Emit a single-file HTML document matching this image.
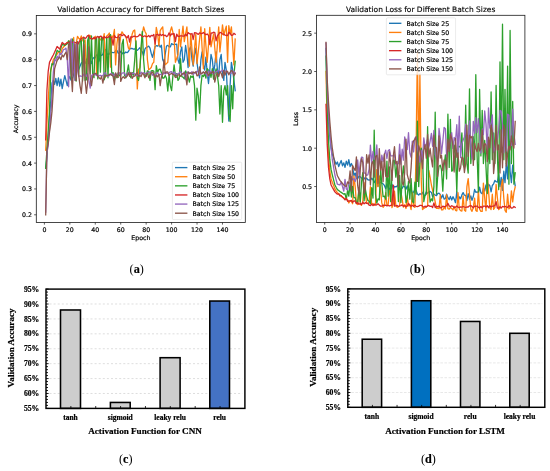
<!DOCTYPE html>
<html><head><meta charset="utf-8"><title>Figure</title>
<style>
html,body{margin:0;padding:0;background:#fff;}
body{width:550px;height:471px;overflow:hidden;}
svg{display:block;}
.tk{font-family:"DejaVu Sans","Liberation Sans",sans-serif;font-size:6.25px;fill:#000;stroke:#000;stroke-width:0.2px;}
.tt{font-family:"DejaVu Sans","Liberation Sans",sans-serif;font-size:7.5px;fill:#000;stroke:#000;stroke-width:0.12px;}
.bx{font-family:"Liberation Serif",serif;font-weight:bold;font-size:7.5px;fill:#000;stroke:#000;stroke-width:0.2px;}
.by{font-family:"Liberation Serif",serif;font-weight:bold;font-size:7.7px;fill:#000;stroke:#000;stroke-width:0.2px;}
.bt{font-family:"Liberation Serif",serif;font-weight:bold;font-size:9.15px;fill:#000;stroke:#000;stroke-width:0.2px;}
.cap{font-family:"Liberation Serif",serif;font-size:12.2px;fill:#000;}
.cap tspan{stroke:#000;stroke-width:0.15px;}
</style></head><body>
<svg width="550" height="471" viewBox="0 0 550 471">
<rect width="550" height="471" fill="#fff"/>
<clipPath id="ca"><rect x="36.3" y="15.4" width="209.0" height="207.0"/></clipPath>
<g clip-path="url(#ca)">
<polyline points="45.7,168.3 46.9,157.9 48.2,137.2 49.5,116.6 50.8,101.1 52.0,83.0 53.3,80.4 54.6,84.3 55.8,78.3 57.1,85.6 58.4,77.8 59.7,86.1 60.9,79.1 62.2,88.7 63.5,81.7 64.8,75.7 66.0,80.4 67.3,85.6 68.6,79.1 69.8,76.5 71.1,80.4 72.4,78.5 73.7,74.1 74.9,70.4 76.2,70.4 77.5,68.8 78.7,69.5 80.0,66.2 81.3,63.0 82.6,62.1 83.8,61.8 85.1,63.5 86.4,59.4 87.6,58.7 88.9,60.7 90.2,59.7 91.5,63.6 92.7,58.8 94.0,57.5 95.3,57.8 96.6,54.8 97.8,55.8 99.1,61.0 100.4,55.0 101.6,55.4 102.9,54.2 104.2,50.3 105.5,49.5 106.7,53.8 108.0,54.1 109.3,54.2 110.5,52.1 111.8,52.3 113.1,52.6 114.4,52.5 115.6,50.6 116.9,50.4 118.2,53.1 119.4,53.5 120.7,51.2 122.0,54.0 123.3,52.4 124.5,53.3 125.8,52.0 127.1,52.7 128.4,51.5 129.6,49.1 130.9,48.3 132.2,48.5 133.4,49.1 134.7,48.8 136.0,49.7 137.3,50.4 138.5,49.1 139.8,47.8 141.1,50.4 142.3,51.9 143.6,55.8 144.9,49.1 146.2,47.3 147.4,47.1 148.7,46.1 150.0,48.2 151.2,53.2 152.5,57.4 153.8,51.9 155.1,46.5 156.3,45.7 157.6,46.2 158.9,44.7 160.2,47.1 161.4,45.2 162.7,59.7 164.0,62.5 165.2,54.5 166.5,46.0 167.8,45.4 169.1,46.8 170.3,46.9 171.6,43.6 172.9,44.6 174.1,44.4 175.4,44.3 176.7,44.2 178.0,59.7 179.2,63.6 180.5,51.9 181.8,46.8 183.0,62.3 184.3,59.7 185.6,45.5 186.9,54.5 188.1,67.5 189.4,49.4 190.7,46.8 192.0,59.7 193.2,66.2 194.5,54.5 195.8,48.1 197.0,62.3 198.3,72.6 199.6,77.8 200.9,59.7 202.1,51.9 203.4,64.9 204.7,70.0 205.9,57.1 207.2,72.6 208.5,83.5 209.8,70.0 211.0,54.5 212.3,59.7 213.6,72.6 214.8,64.9 216.1,51.9 217.4,70.0 218.7,75.2 219.9,59.7 221.2,54.5 222.5,72.6 223.8,80.4 225.0,62.3 226.3,70.0 227.6,95.9 228.8,121.0 230.1,85.6 231.4,62.3 232.7,70.0 233.9,80.4 235.2,90.7" fill="none" stroke="#1f77b4" stroke-width="1.3" stroke-linejoin="round" stroke-linecap="square"/>
<polyline points="45.7,150.2 46.9,124.3 48.2,101.1 49.5,77.8 50.8,70.0 52.0,64.9 53.3,59.7 54.6,57.8 55.8,55.8 57.1,54.0 58.4,52.2 59.7,52.7 60.9,53.2 62.2,48.6 63.5,47.0 64.8,45.5 66.0,43.9 67.3,42.4 68.6,42.4 69.8,40.8 71.1,41.0 72.4,74.4 73.7,37.4 74.9,75.4 76.2,43.3 77.5,36.4 78.7,38.2 80.0,39.5 81.3,35.9 82.6,39.9 83.8,42.1 85.1,40.0 86.4,75.7 87.6,57.1 88.9,35.0 90.2,35.6 91.5,38.3 92.7,38.8 94.0,38.3 95.3,36.3 96.6,74.6 97.8,57.1 99.1,36.6 100.4,39.9 101.6,39.4 102.9,40.1 104.2,33.7 105.5,77.1 106.7,36.0 108.0,35.0 109.3,33.0 110.5,67.2 111.8,36.0 113.1,37.3 114.4,29.5 115.6,64.9 116.9,44.2 118.2,33.9 119.4,45.5 120.7,36.4 122.0,31.8 123.3,33.9 124.5,35.1 125.8,36.4 127.1,41.6 128.4,48.1 129.6,49.4 130.9,41.6 132.2,33.9 133.4,30.7 134.7,30.0 136.0,46.8 137.3,88.9 138.5,70.0 139.8,67.5 141.1,51.9 142.3,33.9 143.6,26.9 144.9,31.3 146.2,33.9 147.4,59.7 148.7,69.8 150.0,68.7 151.2,67.5 152.5,63.6 153.8,62.3 155.1,44.2 156.3,27.4 157.6,33.9 158.9,45.7 160.2,30.7 161.4,28.7 162.7,26.9 164.0,41.6 165.2,64.9 166.5,63.6 167.8,62.3 169.1,46.8 170.3,31.3 171.6,26.9 172.9,32.3 174.1,37.7 175.4,62.3 176.7,58.4 178.0,54.5 179.2,29.5 180.5,46.8 181.8,36.4 183.0,26.1 184.3,41.6 185.6,34.2 186.9,26.9 188.1,46.5 189.4,66.2 190.7,33.9 192.0,49.4 193.2,64.9 194.5,49.4 195.8,33.9 197.0,63.6 198.3,51.3 199.6,39.1 200.9,26.9 202.1,47.8 203.4,68.7 204.7,28.7 205.9,45.5 207.2,62.3 208.5,44.8 209.8,27.4 211.0,46.8 212.3,40.3 213.6,33.9 214.8,48.1 216.1,62.3 217.4,44.6 218.7,26.9 219.9,51.9 221.2,38.4 222.5,24.8 223.8,35.1 225.0,30.6 226.3,26.1 227.6,62.3 228.8,25.6 230.1,33.9 231.4,26.9 232.7,45.9 233.9,64.9 235.2,39.0" fill="none" stroke="#ff7f0e" stroke-width="1.3" stroke-linejoin="round" stroke-linecap="square"/>
<polyline points="45.7,168.3 46.9,150.2 48.2,132.1 49.5,111.4 50.8,70.0 52.0,63.6 53.3,64.9 54.6,59.7 55.8,55.0 57.1,50.4 58.4,51.2 59.7,51.9 60.9,48.1 62.2,44.2 63.5,44.8 64.8,45.5 66.0,44.6 67.3,43.7 68.6,40.8 69.8,43.4 71.1,78.7 72.4,39.0 73.7,43.5 74.9,79.5 76.2,81.1 77.5,41.7 78.7,74.8 80.0,41.7 81.3,39.9 82.6,81.0 83.8,38.1 85.1,80.3 86.4,79.8 87.6,40.5 88.9,36.5 90.2,73.8 91.5,35.9 92.7,73.8 94.0,77.7 95.3,39.5 96.6,37.5 97.8,78.9 99.1,36.6 100.4,72.2 101.6,37.2 102.9,38.8 104.2,79.9 105.5,75.2 106.7,37.7 108.0,77.8 109.3,36.4 110.5,34.6 111.8,75.2 113.1,72.6 114.4,80.4 115.6,73.9 116.9,77.8 118.2,72.6 119.4,75.2 120.7,76.5 122.0,44.2 123.3,39.5 124.5,75.2 125.8,77.8 127.1,72.6 128.4,64.9 129.6,75.2 130.9,77.8 132.2,72.6 133.4,75.2 134.7,59.7 136.0,40.8 137.3,77.8 138.5,80.4 139.8,72.6 141.1,46.8 142.3,31.5 143.6,59.7 144.9,75.5 146.2,76.4 147.4,70.8 148.7,71.5 150.0,80.4 151.2,71.0 152.5,70.7 153.8,71.2 155.1,89.7 156.3,65.6 157.6,72.6 158.9,69.4 160.2,69.1 161.4,72.6 162.7,78.0 164.0,78.0 165.2,75.4 166.5,78.3 167.8,91.0 169.1,75.2 170.3,85.6 171.6,90.7 172.9,75.9 174.1,64.9 175.4,76.1 176.7,73.6 178.0,80.4 179.2,78.6 180.5,58.7 181.8,76.7 183.0,77.1 184.3,78.9 185.6,70.8 186.9,74.0 188.1,76.5 189.4,82.2 190.7,75.8 192.0,77.4 193.2,75.7 194.5,85.6 195.8,120.2 197.0,88.1 198.3,95.9 199.6,113.2 200.9,85.6 202.1,75.2 203.4,76.5 204.7,73.5 205.9,78.1 207.2,68.7 208.5,70.4 209.8,72.2 211.0,77.3 212.3,68.6 213.6,79.2 214.8,74.8 216.1,68.9 217.4,76.0 218.7,85.6 219.9,114.0 221.2,85.6 222.5,122.3 223.8,90.7 225.0,85.6 226.3,94.9 227.6,85.6 228.8,114.0 230.1,121.5 231.4,85.6 232.7,108.8 233.9,75.2 235.2,61.3" fill="none" stroke="#2ca02c" stroke-width="1.3" stroke-linejoin="round" stroke-linecap="square"/>
<polyline points="45.7,139.8 46.9,90.7 48.2,71.3 49.5,62.3 50.8,59.7 52.0,57.4 53.3,55.0 54.6,52.2 55.8,49.4 57.1,46.5 58.4,47.8 59.7,49.1 60.9,45.7 62.2,42.4 63.5,43.4 64.8,44.4 66.0,43.5 67.3,42.6 68.6,42.5 69.8,42.4 71.1,42.3 72.4,42.1 73.7,42.3 74.9,42.5 76.2,42.6 77.5,45.0 78.7,42.6 80.0,40.3 81.3,38.5 82.6,38.0 83.8,37.1 85.1,38.6 86.4,37.4 87.6,35.6 88.9,35.5 90.2,38.7 91.5,38.3 92.7,38.9 94.0,37.3 95.3,39.0 96.6,37.2 97.8,36.4 99.1,37.9 100.4,36.2 101.6,36.5 102.9,38.8 104.2,36.6 105.5,37.8 106.7,37.1 108.0,37.6 109.3,35.9 110.5,36.9 111.8,38.1 113.1,45.2 114.4,35.4 115.6,37.4 116.9,37.7 118.2,37.0 119.4,34.7 120.7,34.5 122.0,35.7 123.3,34.7 124.5,34.9 125.8,36.8 127.1,37.9 128.4,35.5 129.6,42.1 130.9,36.6 132.2,37.2 133.4,36.4 134.7,36.1 136.0,36.8 137.3,36.7 138.5,36.0 139.8,34.3 141.1,35.4 142.3,36.6 143.6,36.5 144.9,35.8 146.2,36.7 147.4,36.7 148.7,35.4 150.0,37.1 151.2,35.4 152.5,35.9 153.8,34.4 155.1,44.2 156.3,34.4 157.6,34.3 158.9,35.6 160.2,34.3 161.4,35.6 162.7,34.6 164.0,35.6 165.2,35.1 166.5,36.6 167.8,35.8 169.1,32.8 170.3,35.8 171.6,33.8 172.9,34.0 174.1,33.7 175.4,41.6 176.7,34.2 178.0,36.3 179.2,36.3 180.5,35.8 181.8,35.9 183.0,36.1 184.3,36.0 185.6,34.2 186.9,35.7 188.1,32.6 189.4,33.7 190.7,34.2 192.0,33.5 193.2,39.5 194.5,32.6 195.8,32.9 197.0,33.4 198.3,34.4 199.6,32.9 200.9,33.3 202.1,33.6 203.4,32.5 204.7,33.7 205.9,34.8 207.2,34.0 208.5,35.4 209.8,44.7 211.0,33.2 212.3,33.0 213.6,32.2 214.8,32.6 216.1,40.8 217.4,35.8 218.7,34.1 219.9,32.3 221.2,32.8 222.5,34.1 223.8,34.2 225.0,35.1 226.3,35.3 227.6,35.7 228.8,32.3 230.1,33.3 231.4,35.4 232.7,35.1 233.9,33.3 235.2,34.4" fill="none" stroke="#d62728" stroke-width="1.3" stroke-linejoin="round" stroke-linecap="square"/>
<polyline points="45.7,212.2 46.9,152.8 48.2,145.0 49.5,129.5 50.8,114.0 52.0,95.9 53.3,72.6 54.6,59.7 55.8,60.8 57.1,56.1 58.4,58.9 59.7,53.2 60.9,54.6 62.2,52.5 63.5,49.6 64.8,49.2 66.0,48.1 67.3,59.7 68.6,86.8 69.8,44.2 71.1,39.0 72.4,75.2 73.7,41.6 74.9,80.4 76.2,44.2 77.5,70.0 78.7,76.5 80.0,75.8 81.3,76.2 82.6,76.5 83.8,74.1 85.1,75.2 86.4,76.2 87.6,73.6 88.9,80.4 90.2,88.1 91.5,75.6 92.7,74.4 94.0,74.5 95.3,74.4 96.6,75.6 97.8,75.5 99.1,75.6 100.4,75.3 101.6,75.9 102.9,75.8 104.2,72.9 105.5,72.9 106.7,75.7 108.0,76.3 109.3,75.6 110.5,73.8 111.8,73.5 113.1,76.2 114.4,74.1 115.6,76.2 116.9,74.3 118.2,73.8 119.4,72.6 120.7,75.2 122.0,73.2 123.3,72.9 124.5,72.7 125.8,76.0 127.1,74.3 128.4,72.4 129.6,74.5 130.9,73.0 132.2,73.9 133.4,73.1 134.7,74.1 136.0,75.7 137.3,75.5 138.5,75.4 139.8,74.8 141.1,72.2 142.3,73.4 143.6,72.7 144.9,73.6 146.2,73.3 147.4,72.7 148.7,72.2 150.0,72.2 151.2,72.5 152.5,75.2 153.8,74.2 155.1,75.3 156.3,73.4 157.6,72.5 158.9,75.2 160.2,74.7 161.4,74.0 162.7,74.4 164.0,72.4 165.2,74.0 166.5,72.9 167.8,73.4 169.1,73.1 170.3,71.8 171.6,71.7 172.9,74.7 174.1,72.0 175.4,73.8 176.7,74.7 178.0,73.6 179.2,73.1 180.5,71.5 181.8,73.6 183.0,74.9 184.3,71.8 185.6,79.6 186.9,73.1 188.1,71.7 189.4,72.9 190.7,73.2 192.0,71.8 193.2,74.6 194.5,72.6 195.8,73.2 197.0,71.1 198.3,71.7 199.6,74.4 200.9,73.9 202.1,72.9 203.4,72.0 204.7,73.3 205.9,73.2 207.2,76.5 208.5,71.0 209.8,72.9 211.0,71.1 212.3,73.2 213.6,74.0 214.8,72.4 216.1,71.9 217.4,71.0 218.7,70.7 219.9,71.4 221.2,71.4 222.5,70.0 223.8,71.6 225.0,71.3 226.3,70.6 227.6,72.7 228.8,73.7 230.1,73.1 231.4,73.2 232.7,72.7 233.9,71.0 235.2,73.7" fill="none" stroke="#9467bd" stroke-width="1.3" stroke-linejoin="round" stroke-linecap="square"/>
<polyline points="45.7,214.8 46.9,150.2 48.2,143.7 49.5,132.1 50.8,123.0 52.0,111.4 53.3,90.7 54.6,68.7 55.8,64.6 57.1,60.5 58.4,58.7 59.7,56.9 60.9,59.7 62.2,55.0 63.5,56.9 64.8,54.0 66.0,52.2 67.3,59.7 68.6,44.2 69.8,41.6 71.1,72.6 72.4,91.5 73.7,59.7 74.9,44.2 76.2,80.4 77.5,41.6 78.7,75.2 80.0,85.6 81.3,93.3 82.6,77.8 83.8,44.2 85.1,80.4 86.4,93.3 87.6,83.0 88.9,46.8 90.2,77.8 91.5,85.6 92.7,76.5 94.0,73.9 95.3,73.3 96.6,73.9 97.8,75.9 99.1,77.8 100.4,79.1 101.6,76.5 102.9,83.2 104.2,75.9 105.5,76.1 106.7,75.6 108.0,75.6 109.3,74.3 110.5,74.5 111.8,75.1 113.1,76.3 114.4,84.5 115.6,72.8 116.9,76.8 118.2,77.4 119.4,37.2 120.7,81.4 122.0,77.9 123.3,76.7 124.5,78.2 125.8,77.2 127.1,76.2 128.4,73.0 129.6,76.4 130.9,72.4 132.2,78.3 133.4,76.3 134.7,76.1 136.0,73.7 137.3,72.6 138.5,76.4 139.8,75.6 141.1,76.6 142.3,73.3 143.6,74.3 144.9,77.8 146.2,74.4 147.4,73.2 148.7,77.9 150.0,75.3 151.2,73.2 152.5,71.9 153.8,74.4 155.1,77.8 156.3,75.2 157.6,76.8 158.9,74.0 160.2,85.6 161.4,76.9 162.7,74.5 164.0,59.7 165.2,73.2 166.5,71.9 167.8,71.9 169.1,75.4 170.3,74.0 171.6,73.5 172.9,74.4 174.1,74.7 175.4,77.5 176.7,77.1 178.0,74.8 179.2,74.8 180.5,76.3 181.8,74.1 183.0,73.7 184.3,72.9 185.6,75.4 186.9,84.8 188.1,72.2 189.4,73.6 190.7,72.8 192.0,74.0 193.2,72.0 194.5,72.7 195.8,71.7 197.0,75.8 198.3,75.2 199.6,66.9 200.9,73.9 202.1,73.2 203.4,71.9 204.7,73.6 205.9,71.1 207.2,72.4 208.5,75.7 209.8,73.0 211.0,73.3 212.3,72.0 213.6,71.7 214.8,82.2 216.1,75.8 217.4,72.7 218.7,76.6 219.9,71.7 221.2,73.4 222.5,77.8 223.8,70.4 225.0,75.1 226.3,71.2 227.6,71.4 228.8,74.9 230.1,72.3 231.4,70.3 232.7,71.8 233.9,75.7 235.2,73.1" fill="none" stroke="#8c564b" stroke-width="1.3" stroke-linejoin="round" stroke-linecap="square"/>
</g>
<line x1="44.40" y1="222.40" x2="44.40" y2="224.60" stroke="#1a1a1a" stroke-width="0.7"/>
<text x="44.40" y="231.90" text-anchor="middle" class="tk">0</text>
<line x1="69.84" y1="222.40" x2="69.84" y2="224.60" stroke="#1a1a1a" stroke-width="0.7"/>
<text x="69.84" y="231.90" text-anchor="middle" class="tk">20</text>
<line x1="95.28" y1="222.40" x2="95.28" y2="224.60" stroke="#1a1a1a" stroke-width="0.7"/>
<text x="95.28" y="231.90" text-anchor="middle" class="tk">40</text>
<line x1="120.72" y1="222.40" x2="120.72" y2="224.60" stroke="#1a1a1a" stroke-width="0.7"/>
<text x="120.72" y="231.90" text-anchor="middle" class="tk">60</text>
<line x1="146.16" y1="222.40" x2="146.16" y2="224.60" stroke="#1a1a1a" stroke-width="0.7"/>
<text x="146.16" y="231.90" text-anchor="middle" class="tk">80</text>
<line x1="171.60" y1="222.40" x2="171.60" y2="224.60" stroke="#1a1a1a" stroke-width="0.7"/>
<text x="171.60" y="231.90" text-anchor="middle" class="tk">100</text>
<line x1="197.04" y1="222.40" x2="197.04" y2="224.60" stroke="#1a1a1a" stroke-width="0.7"/>
<text x="197.04" y="231.90" text-anchor="middle" class="tk">120</text>
<line x1="222.48" y1="222.40" x2="222.48" y2="224.60" stroke="#1a1a1a" stroke-width="0.7"/>
<text x="222.48" y="231.90" text-anchor="middle" class="tk">140</text>
<line x1="34.10" y1="214.80" x2="36.30" y2="214.80" stroke="#1a1a1a" stroke-width="0.7"/>
<text x="32.00" y="217.30" text-anchor="end" class="tk">0.2</text>
<line x1="34.10" y1="188.95" x2="36.30" y2="188.95" stroke="#1a1a1a" stroke-width="0.7"/>
<text x="32.00" y="191.45" text-anchor="end" class="tk">0.3</text>
<line x1="34.10" y1="163.10" x2="36.30" y2="163.10" stroke="#1a1a1a" stroke-width="0.7"/>
<text x="32.00" y="165.60" text-anchor="end" class="tk">0.4</text>
<line x1="34.10" y1="137.25" x2="36.30" y2="137.25" stroke="#1a1a1a" stroke-width="0.7"/>
<text x="32.00" y="139.75" text-anchor="end" class="tk">0.5</text>
<line x1="34.10" y1="111.40" x2="36.30" y2="111.40" stroke="#1a1a1a" stroke-width="0.7"/>
<text x="32.00" y="113.90" text-anchor="end" class="tk">0.6</text>
<line x1="34.10" y1="85.55" x2="36.30" y2="85.55" stroke="#1a1a1a" stroke-width="0.7"/>
<text x="32.00" y="88.05" text-anchor="end" class="tk">0.7</text>
<line x1="34.10" y1="59.70" x2="36.30" y2="59.70" stroke="#1a1a1a" stroke-width="0.7"/>
<text x="32.00" y="62.20" text-anchor="end" class="tk">0.8</text>
<line x1="34.10" y1="33.85" x2="36.30" y2="33.85" stroke="#1a1a1a" stroke-width="0.7"/>
<text x="32.00" y="36.35" text-anchor="end" class="tk">0.9</text>
<rect x="36.30" y="15.40" width="209.00" height="207.00" fill="none" stroke="#1a1a1a" stroke-width="0.8"/>
<text x="140.80" y="11.80" text-anchor="middle" class="tt">Validation Accuracy for Different Batch Sizes</text>
<text x="140.85" y="240.10" text-anchor="middle" class="tk">Epoch</text>
<text transform="translate(17.70,118.90) rotate(-90)" text-anchor="middle" class="tk">Accuracy</text>
<rect x="172.40" y="162.20" width="69.30" height="57.40" rx="1.2" fill="#fff" fill-opacity="0.8" stroke="#cccccc" stroke-opacity="0.8" stroke-width="0.5"/>
<line x1="175.00" y1="167.60" x2="187.40" y2="167.60" stroke="#1f77b4" stroke-width="1.35"/>
<text x="192.40" y="169.90" class="tk">Batch Size 25</text>
<line x1="175.00" y1="176.72" x2="187.40" y2="176.72" stroke="#ff7f0e" stroke-width="1.35"/>
<text x="192.40" y="179.02" class="tk">Batch Size 50</text>
<line x1="175.00" y1="185.84" x2="187.40" y2="185.84" stroke="#2ca02c" stroke-width="1.35"/>
<text x="192.40" y="188.14" class="tk">Batch Size 75</text>
<line x1="175.00" y1="194.96" x2="187.40" y2="194.96" stroke="#d62728" stroke-width="1.35"/>
<text x="192.40" y="197.26" class="tk">Batch Size 100</text>
<line x1="175.00" y1="204.08" x2="187.40" y2="204.08" stroke="#9467bd" stroke-width="1.35"/>
<text x="192.40" y="206.38" class="tk">Batch Size 125</text>
<line x1="175.00" y1="213.20" x2="187.40" y2="213.20" stroke="#8c564b" stroke-width="1.35"/>
<text x="192.40" y="215.50" class="tk">Batch Size 150</text>
<clipPath id="cb"><rect x="316.4" y="15.3" width="208.5" height="207.1"/></clipPath>
<g clip-path="url(#cb)">
<polyline points="326.0,48.5 327.2,94.5 328.5,121.4 329.8,136.7 331.1,148.2 332.3,154.3 333.6,157.8 334.9,161.2 336.1,164.3 337.4,162.0 338.7,166.6 339.9,163.5 341.2,160.5 342.5,165.8 343.8,162.8 345.0,167.4 346.3,161.2 347.6,165.1 348.8,159.7 350.1,166.6 351.4,163.5 352.6,166.5 353.9,175.6 355.2,173.0 356.4,178.5 357.7,178.6 359.0,176.0 360.3,176.9 361.5,178.1 362.8,179.2 364.1,177.8 365.3,179.5 366.6,178.1 367.9,179.9 369.1,180.0 370.4,180.0 371.7,178.2 373.0,179.7 374.2,182.7 375.5,180.1 376.8,180.9 378.0,186.3 379.3,182.4 380.6,182.3 381.8,183.1 383.1,183.8 384.4,185.4 385.7,188.7 386.9,183.8 388.2,187.9 389.5,189.2 390.7,186.0 392.0,184.2 393.3,189.0 394.5,186.4 395.8,186.9 397.1,186.1 398.4,184.8 399.6,188.6 400.9,189.2 402.2,188.3 403.4,186.1 404.7,186.7 406.0,189.2 407.2,185.9 408.5,189.8 409.8,190.7 411.1,189.0 412.3,193.5 413.6,191.9 414.9,189.9 416.1,190.4 417.4,194.0 418.7,195.0 419.9,193.6 421.2,194.6 422.5,192.2 423.8,195.8 425.0,195.0 426.3,191.8 427.6,193.4 428.8,191.8 430.1,191.4 431.4,192.4 432.6,196.7 433.9,194.0 435.2,195.1 436.5,195.7 437.7,193.6 439.0,193.2 440.3,194.4 441.5,198.1 442.8,194.7 444.1,199.1 445.4,198.5 446.6,194.1 447.9,197.7 449.2,199.6 450.4,196.4 451.7,200.0 453.0,196.7 454.2,199.1 455.5,202.7 456.8,192.0 458.0,202.1 459.3,196.8 460.6,198.7 461.9,194.9 463.1,192.6 464.4,195.2 465.7,195.3 466.9,200.6 468.2,193.6 469.5,199.3 470.8,195.9 472.0,200.4 473.3,196.5 474.6,189.5 475.8,192.3 477.1,191.8 478.4,193.1 479.6,187.1 480.9,192.8 482.2,193.8 483.4,188.1 484.7,191.1 486.0,184.9 487.3,191.4 488.5,184.1 489.8,185.7 491.1,191.8 492.3,185.5 493.6,183.8 494.9,180.4 496.1,181.7 497.4,182.1 498.7,174.3 500.0,186.6 501.2,177.3 502.5,190.4 503.8,171.2 505.0,182.7 506.3,163.5 507.6,178.9 508.9,134.4 510.1,171.2 511.4,182.7 512.7,165.1 513.9,177.3 515.2,185.8" fill="none" stroke="#1f77b4" stroke-width="1.3" stroke-linejoin="round" stroke-linecap="square"/>
<polyline points="326.0,71.5 327.2,125.2 328.5,155.9 329.8,171.2 331.1,178.9 332.3,182.2 333.6,185.5 334.9,188.9 336.1,190.8 337.4,192.7 338.7,193.8 339.9,194.8 341.2,195.9 342.5,197.0 343.8,198.1 345.0,198.6 346.3,199.1 347.6,199.6 348.8,203.0 350.1,200.8 351.4,201.3 352.6,203.7 353.9,175.8 355.2,186.6 356.4,203.5 357.7,204.5 359.0,190.4 360.3,204.2 361.5,205.3 362.8,201.6 364.1,182.7 365.3,194.2 366.6,203.0 367.9,203.8 369.1,202.1 370.4,186.6 371.7,204.3 373.0,203.5 374.2,205.4 375.5,203.8 376.8,169.7 378.0,186.6 379.3,175.8 380.6,190.4 381.8,202.9 383.1,207.4 384.4,205.6 385.7,192.7 386.9,205.2 388.2,204.2 389.5,190.4 390.7,195.8 392.0,207.6 393.3,204.3 394.5,191.2 395.8,205.0 397.1,207.3 398.4,206.7 399.6,206.0 400.9,192.1 402.2,199.6 403.4,207.1 404.7,204.8 406.0,208.5 407.2,195.8 408.5,205.9 409.8,204.7 411.1,209.5 412.3,192.7 413.6,206.4 414.9,207.4 416.1,148.2 417.4,51.6 418.7,163.5 419.9,73.8 421.2,178.9 422.5,209.5 423.8,208.4 425.0,207.7 426.3,206.7 427.6,206.2 428.8,170.4 430.1,177.3 431.4,185.0 432.6,190.4 433.9,195.8 435.2,201.9 436.5,208.4 437.7,208.2 439.0,208.7 440.3,194.7 441.5,209.9 442.8,209.9 444.1,207.2 445.4,209.0 446.6,194.7 447.9,208.7 449.2,209.1 450.4,207.5 451.7,208.5 453.0,209.9 454.2,206.3 455.5,210.3 456.8,210.8 458.0,192.7 459.3,209.0 460.6,210.7 461.9,211.1 463.1,195.8 464.4,210.2 465.7,211.2 466.9,186.6 468.2,178.6 469.5,194.2 470.8,209.1 472.0,211.4 473.3,207.6 474.6,198.1 475.8,210.5 477.1,211.4 478.4,190.4 479.6,209.2 480.9,211.3 482.2,211.4 483.4,183.1 484.7,198.1 486.0,210.7 487.3,175.5 488.5,190.4 489.8,207.9 491.1,209.5 492.3,194.2 493.6,209.4 494.9,207.4 496.1,184.4 497.4,198.1 498.7,209.6 500.0,208.0 501.2,186.6 502.5,179.3 503.8,198.1 505.0,210.3 506.3,212.3 507.6,194.2 508.9,208.9 510.1,207.6 511.4,190.8 512.7,201.9 513.9,192.7 515.2,186.9" fill="none" stroke="#ff7f0e" stroke-width="1.3" stroke-linejoin="round" stroke-linecap="square"/>
<polyline points="326.0,56.2 327.2,109.8 328.5,140.5 329.8,159.7 331.1,169.7 332.3,174.8 333.6,179.9 334.9,185.0 336.1,187.3 337.4,189.6 338.7,190.5 339.9,191.5 341.2,192.4 342.5,193.3 343.8,194.2 345.0,193.6 346.3,199.7 347.6,190.2 348.8,196.1 350.1,183.4 351.4,197.0 352.6,186.5 353.9,197.7 355.2,197.7 356.4,203.1 357.7,201.9 359.0,187.3 360.3,201.9 361.5,182.1 362.8,172.6 364.1,200.8 365.3,188.8 366.6,196.1 367.9,200.6 369.1,201.0 370.4,203.9 371.7,187.7 373.0,198.1 374.2,130.2 375.5,194.2 376.8,203.2 378.0,198.8 379.3,199.9 380.6,169.5 381.8,183.5 383.1,196.7 384.4,196.2 385.7,199.2 386.9,161.1 388.2,196.2 389.5,166.9 390.7,201.5 392.0,175.5 393.3,160.4 394.5,160.1 395.8,177.1 397.1,164.3 398.4,201.6 399.6,175.5 400.9,202.4 402.2,177.8 403.4,165.8 404.7,180.1 406.0,202.6 407.2,197.6 408.5,181.3 409.8,199.1 411.1,178.7 412.3,201.2 413.6,202.7 414.9,182.2 416.1,194.2 417.4,121.1 418.7,186.6 419.9,162.4 421.2,148.1 422.5,153.2 423.8,201.7 425.0,195.8 426.3,194.2 427.6,126.7 428.8,186.6 430.1,202.1 431.4,198.9 432.6,200.9 433.9,186.6 435.2,112.2 436.5,194.2 437.7,176.2 439.0,166.4 440.3,165.1 441.5,169.7 442.8,191.2 444.1,165.8 445.4,154.8 446.6,178.9 447.9,114.1 449.2,167.4 450.4,119.3 451.7,171.2 453.0,170.2 454.2,145.1 455.5,154.2 456.8,191.9 458.0,146.4 459.3,146.3 460.6,147.8 461.9,132.9 463.1,164.8 464.4,167.4 465.7,105.2 466.9,163.5 468.2,173.1 469.5,88.8 470.8,163.5 472.0,145.0 473.3,136.7 474.6,159.7 475.8,74.7 477.1,155.9 478.4,191.9 479.6,89.4 480.9,155.9 482.2,110.3 483.4,163.5 484.7,140.5 486.0,167.4 487.3,193.5 488.5,144.4 489.8,163.5 491.1,91.9 492.3,159.7 493.6,132.9 494.9,163.5 496.1,85.5 497.4,155.9 498.7,189.6 500.0,61.8 501.2,152.0 502.5,24.2 503.8,159.7 505.0,89.4 506.3,163.5 507.6,66.1 508.9,184.2 510.1,30.5 511.4,163.5 512.7,101.4 513.9,184.2 515.2,172.7" fill="none" stroke="#2ca02c" stroke-width="1.3" stroke-linejoin="round" stroke-linecap="square"/>
<polyline points="326.0,104.5 327.2,144.4 328.5,167.4 329.8,178.9 331.1,185.0 332.3,187.3 333.6,189.6 334.9,191.9 336.1,193.1 337.4,194.2 338.7,193.9 339.9,195.9 341.2,195.7 342.5,197.3 343.8,198.3 345.0,199.9 346.3,198.3 347.6,201.3 348.8,201.0 350.1,200.9 351.4,200.4 352.6,202.3 353.9,200.9 355.2,201.0 356.4,203.5 357.7,202.6 359.0,204.3 360.3,203.5 361.5,204.5 362.8,202.3 364.1,203.8 365.3,202.7 366.6,203.3 367.9,203.2 369.1,205.2 370.4,205.5 371.7,204.3 373.0,205.5 374.2,204.1 375.5,205.0 376.8,204.8 378.0,203.8 379.3,205.0 380.6,206.2 381.8,206.2 383.1,205.2 384.4,205.4 385.7,205.2 386.9,205.9 388.2,205.3 389.5,206.0 390.7,205.4 392.0,205.1 393.3,185.1 394.5,206.2 395.8,205.8 397.1,205.4 398.4,206.5 399.6,205.8 400.9,205.6 402.2,204.9 403.4,206.3 404.7,205.6 406.0,206.8 407.2,206.1 408.5,203.4 409.8,205.0 411.1,206.3 412.3,205.3 413.6,206.4 414.9,205.1 416.1,206.4 417.4,206.7 418.7,206.1 419.9,205.4 421.2,205.3 422.5,206.1 423.8,207.4 425.0,206.1 426.3,207.0 427.6,205.8 428.8,205.4 430.1,206.4 431.4,206.2 432.6,207.6 433.9,202.9 435.2,207.5 436.5,206.2 437.7,206.9 439.0,205.9 440.3,207.8 441.5,207.6 442.8,206.2 444.1,206.6 445.4,206.5 446.6,205.8 447.9,203.4 449.2,205.9 450.4,206.8 451.7,205.7 453.0,206.4 454.2,207.7 455.5,207.2 456.8,205.9 458.0,207.2 459.3,207.6 460.6,206.9 461.9,207.1 463.1,206.5 464.4,207.0 465.7,207.4 466.9,207.0 468.2,207.0 469.5,205.8 470.8,205.6 472.0,206.5 473.3,207.9 474.6,206.2 475.8,206.4 477.1,206.0 478.4,207.2 479.6,208.0 480.9,206.5 482.2,207.8 483.4,206.2 484.7,206.1 486.0,207.1 487.3,205.7 488.5,207.7 489.8,205.7 491.1,206.9 492.3,206.2 493.6,206.2 494.9,205.6 496.1,201.6 497.4,208.1 498.7,208.1 500.0,206.7 501.2,208.1 502.5,206.4 503.8,206.8 505.0,206.4 506.3,207.0 507.6,207.5 508.9,205.7 510.1,206.3 511.4,208.2 512.7,207.9 513.9,206.5 515.2,207.4" fill="none" stroke="#d62728" stroke-width="1.3" stroke-linejoin="round" stroke-linecap="square"/>
<polyline points="326.0,43.1 327.2,86.8 328.5,113.7 329.8,132.9 331.1,148.2 332.3,159.7 333.6,167.4 334.9,175.0 336.1,179.6 337.4,184.2 338.7,184.6 339.9,185.0 341.2,181.9 342.5,186.6 343.8,191.2 345.0,179.4 346.3,188.9 347.6,189.9 348.8,183.0 350.1,183.2 351.4,176.7 352.6,179.9 353.9,178.6 355.2,181.6 356.4,177.1 357.7,160.0 359.0,175.1 360.3,162.4 361.5,157.2 362.8,157.5 364.1,173.0 365.3,173.1 366.6,175.5 367.9,174.7 369.1,169.2 370.4,145.1 371.7,162.9 373.0,151.5 374.2,159.3 375.5,157.9 376.8,145.0 378.0,168.7 379.3,158.0 380.6,167.0 381.8,155.1 383.1,161.7 384.4,154.4 385.7,150.2 386.9,158.7 388.2,150.7 389.5,149.6 390.7,155.8 392.0,155.8 393.3,155.7 394.5,154.8 395.8,164.2 397.1,164.5 398.4,163.4 399.6,144.1 400.9,164.1 402.2,149.2 403.4,160.1 404.7,137.0 406.0,143.6 407.2,149.6 408.5,132.6 409.8,153.0 411.1,157.2 412.3,141.2 413.6,151.9 414.9,138.0 416.1,137.1 417.4,148.4 418.7,154.1 419.9,162.2 421.2,150.4 422.5,159.5 423.8,137.9 425.0,146.9 426.3,144.7 427.6,138.8 428.8,147.7 430.1,141.3 431.4,133.3 432.6,146.3 433.9,130.5 435.2,154.2 436.5,158.2 437.7,161.6 439.0,128.5 440.3,138.6 441.5,153.7 442.8,141.5 444.1,127.4 445.4,128.8 446.6,156.7 447.9,150.0 449.2,150.2 450.4,139.6 451.7,132.7 453.0,148.4 454.2,137.4 455.5,140.8 456.8,124.7 458.0,152.8 459.3,116.1 460.6,157.7 461.9,143.6 463.1,140.2 464.4,136.9 465.7,124.1 466.9,151.8 468.2,142.5 469.5,121.0 470.8,144.6 472.0,159.1 473.3,121.4 474.6,133.3 475.8,117.7 477.1,132.5 478.4,118.6 479.6,133.0 480.9,153.0 482.2,129.0 483.4,134.6 484.7,111.0 486.0,123.9 487.3,153.2 488.5,107.8 489.8,128.0 491.1,123.3 492.3,114.8 493.6,152.4 494.9,148.3 496.1,140.9 497.4,139.0 498.7,129.8 500.0,110.4 501.2,111.0 502.5,124.7 503.8,152.8 505.0,136.3 506.3,151.0 507.6,114.2 508.9,115.1 510.1,138.6 511.4,145.5 512.7,109.1 513.9,133.3 515.2,144.4" fill="none" stroke="#9467bd" stroke-width="1.3" stroke-linejoin="round" stroke-linecap="square"/>
<polyline points="326.0,42.4 327.2,79.2 328.5,102.2 329.8,121.4 331.1,136.7 332.3,148.2 333.6,156.6 334.9,165.1 336.1,170.4 337.4,175.8 338.7,178.1 339.9,180.4 341.2,181.9 342.5,183.5 343.8,185.0 345.0,185.8 346.3,186.6 347.6,182.0 348.8,183.3 350.1,170.9 351.4,191.2 352.6,165.4 353.9,168.4 355.2,170.8 356.4,157.0 357.7,185.7 359.0,194.5 360.3,168.6 361.5,158.6 362.8,162.6 364.1,193.4 365.3,189.4 366.6,154.7 367.9,163.2 369.1,154.8 370.4,185.0 371.7,163.6 373.0,161.4 374.2,177.1 375.5,156.7 376.8,155.3 378.0,183.4 379.3,148.6 380.6,170.1 381.8,161.1 383.1,181.7 384.4,154.0 385.7,176.2 386.9,177.1 388.2,176.5 389.5,151.9 390.7,164.2 392.0,180.4 393.3,156.0 394.5,146.7 395.8,163.5 397.1,161.4 398.4,186.7 399.6,154.9 400.9,161.9 402.2,182.5 403.4,185.2 404.7,172.6 406.0,139.1 407.2,174.3 408.5,179.4 409.8,183.1 411.1,167.8 412.3,145.9 413.6,140.8 414.9,139.4 416.1,136.7 417.4,181.4 418.7,145.6 419.9,149.9 421.2,157.5 422.5,168.5 423.8,150.1 425.0,144.7 426.3,158.3 427.6,134.4 428.8,156.8 430.1,148.5 431.4,159.3 432.6,166.9 433.9,135.2 435.2,146.7 436.5,147.8 437.7,176.2 439.0,135.9 440.3,158.1 441.5,155.2 442.8,170.6 444.1,159.9 445.4,161.3 446.6,169.3 447.9,139.2 449.2,151.5 450.4,134.2 451.7,138.5 453.0,146.0 454.2,171.9 455.5,138.5 456.8,157.3 458.0,153.0 459.3,171.2 460.6,167.7 461.9,157.2 463.1,158.3 464.4,172.5 465.7,163.5 466.9,125.2 468.2,156.4 469.5,135.2 470.8,137.9 472.0,136.4 473.3,165.4 474.6,143.1 475.8,148.8 477.1,151.6 478.4,143.4 479.6,150.9 480.9,148.4 482.2,130.0 483.4,152.3 484.7,143.4 486.0,145.0 487.3,161.7 488.5,137.2 489.8,147.7 491.1,125.2 492.3,131.6 493.6,173.5 494.9,159.6 496.1,125.3 497.4,150.0 498.7,145.0 500.0,173.0 501.2,129.7 502.5,167.8 503.8,125.2 505.0,129.6 506.3,166.2 507.6,153.9 508.9,146.1 510.1,149.9 511.4,136.0 512.7,144.4 513.9,148.2 515.2,121.4" fill="none" stroke="#8c564b" stroke-width="1.3" stroke-linejoin="round" stroke-linecap="square"/>
</g>
<line x1="324.70" y1="222.40" x2="324.70" y2="224.60" stroke="#1a1a1a" stroke-width="0.7"/>
<text x="324.70" y="231.90" text-anchor="middle" class="tk">0</text>
<line x1="350.10" y1="222.40" x2="350.10" y2="224.60" stroke="#1a1a1a" stroke-width="0.7"/>
<text x="350.10" y="231.90" text-anchor="middle" class="tk">20</text>
<line x1="375.50" y1="222.40" x2="375.50" y2="224.60" stroke="#1a1a1a" stroke-width="0.7"/>
<text x="375.50" y="231.90" text-anchor="middle" class="tk">40</text>
<line x1="400.90" y1="222.40" x2="400.90" y2="224.60" stroke="#1a1a1a" stroke-width="0.7"/>
<text x="400.90" y="231.90" text-anchor="middle" class="tk">60</text>
<line x1="426.30" y1="222.40" x2="426.30" y2="224.60" stroke="#1a1a1a" stroke-width="0.7"/>
<text x="426.30" y="231.90" text-anchor="middle" class="tk">80</text>
<line x1="451.70" y1="222.40" x2="451.70" y2="224.60" stroke="#1a1a1a" stroke-width="0.7"/>
<text x="451.70" y="231.90" text-anchor="middle" class="tk">100</text>
<line x1="477.10" y1="222.40" x2="477.10" y2="224.60" stroke="#1a1a1a" stroke-width="0.7"/>
<text x="477.10" y="231.90" text-anchor="middle" class="tk">120</text>
<line x1="502.50" y1="222.40" x2="502.50" y2="224.60" stroke="#1a1a1a" stroke-width="0.7"/>
<text x="502.50" y="231.90" text-anchor="middle" class="tk">140</text>
<line x1="314.20" y1="186.55" x2="316.40" y2="186.55" stroke="#1a1a1a" stroke-width="0.7"/>
<text x="312.10" y="189.05" text-anchor="end" class="tk">0.5</text>
<line x1="314.20" y1="148.20" x2="316.40" y2="148.20" stroke="#1a1a1a" stroke-width="0.7"/>
<text x="312.10" y="150.70" text-anchor="end" class="tk">1.0</text>
<line x1="314.20" y1="109.85" x2="316.40" y2="109.85" stroke="#1a1a1a" stroke-width="0.7"/>
<text x="312.10" y="112.35" text-anchor="end" class="tk">1.5</text>
<line x1="314.20" y1="71.50" x2="316.40" y2="71.50" stroke="#1a1a1a" stroke-width="0.7"/>
<text x="312.10" y="74.00" text-anchor="end" class="tk">2.0</text>
<line x1="314.20" y1="33.15" x2="316.40" y2="33.15" stroke="#1a1a1a" stroke-width="0.7"/>
<text x="312.10" y="35.65" text-anchor="end" class="tk">2.5</text>
<rect x="316.40" y="15.30" width="208.50" height="207.10" fill="none" stroke="#1a1a1a" stroke-width="0.8"/>
<text x="420.65" y="11.70" text-anchor="middle" class="tt">Validation Loss for Different Batch Sizes</text>
<text x="420.70" y="240.10" text-anchor="middle" class="tk">Epoch</text>
<text transform="translate(298.00,118.85) rotate(-90)" text-anchor="middle" class="tk">Loss</text>
<rect x="386.40" y="17.80" width="69.20" height="57.00" rx="1.2" fill="#fff" fill-opacity="0.8" stroke="#cccccc" stroke-opacity="0.8" stroke-width="0.5"/>
<line x1="389.00" y1="23.30" x2="401.40" y2="23.30" stroke="#1f77b4" stroke-width="1.35"/>
<text x="406.40" y="25.60" class="tk">Batch Size 25</text>
<line x1="389.00" y1="32.42" x2="401.40" y2="32.42" stroke="#ff7f0e" stroke-width="1.35"/>
<text x="406.40" y="34.72" class="tk">Batch Size 50</text>
<line x1="389.00" y1="41.54" x2="401.40" y2="41.54" stroke="#2ca02c" stroke-width="1.35"/>
<text x="406.40" y="43.84" class="tk">Batch Size 75</text>
<line x1="389.00" y1="50.66" x2="401.40" y2="50.66" stroke="#d62728" stroke-width="1.35"/>
<text x="406.40" y="52.96" class="tk">Batch Size 100</text>
<line x1="389.00" y1="59.78" x2="401.40" y2="59.78" stroke="#9467bd" stroke-width="1.35"/>
<text x="406.40" y="62.08" class="tk">Batch Size 125</text>
<line x1="389.00" y1="68.90" x2="401.40" y2="68.90" stroke="#8c564b" stroke-width="1.35"/>
<text x="406.40" y="71.20" class="tk">Batch Size 150</text>
<line x1="49.50" y1="304.01" x2="242.40" y2="304.01" stroke="#d8d8d8" stroke-width="0.85" stroke-dasharray="2 2.1"/>
<line x1="49.50" y1="318.93" x2="242.40" y2="318.93" stroke="#d8d8d8" stroke-width="0.85" stroke-dasharray="2 2.1"/>
<line x1="49.50" y1="333.84" x2="242.40" y2="333.84" stroke="#d8d8d8" stroke-width="0.85" stroke-dasharray="2 2.1"/>
<line x1="49.50" y1="348.75" x2="242.40" y2="348.75" stroke="#d8d8d8" stroke-width="0.85" stroke-dasharray="2 2.1"/>
<line x1="49.50" y1="363.66" x2="242.40" y2="363.66" stroke="#d8d8d8" stroke-width="0.85" stroke-dasharray="2 2.1"/>
<line x1="49.50" y1="378.57" x2="242.40" y2="378.57" stroke="#d8d8d8" stroke-width="0.85" stroke-dasharray="2 2.1"/>
<line x1="49.50" y1="393.49" x2="242.40" y2="393.49" stroke="#d8d8d8" stroke-width="0.85" stroke-dasharray="2 2.1"/>
<rect x="60.50" y="309.98" width="20.00" height="98.42" fill="#cdcdcd" stroke="#000" stroke-width="1.55"/>
<text x="70.50" y="420.10" text-anchor="middle" class="bx">tanh</text>
<rect x="110.40" y="402.44" width="19.80" height="5.96" fill="#cdcdcd" stroke="#000" stroke-width="1.55"/>
<text x="120.30" y="420.10" text-anchor="middle" class="bx">sigmoid</text>
<rect x="160.10" y="357.70" width="20.00" height="50.70" fill="#cdcdcd" stroke="#000" stroke-width="1.55"/>
<text x="170.10" y="420.10" text-anchor="middle" class="bx">leaky relu</text>
<rect x="209.80" y="301.03" width="19.70" height="107.37" fill="#4472c4" stroke="#000" stroke-width="1.55"/>
<text x="219.65" y="420.10" text-anchor="middle" class="bx">relu</text>
<line x1="46.00" y1="408.40" x2="48.60" y2="408.40" stroke="#000" stroke-width="0.9"/>
<line x1="46.00" y1="405.42" x2="48.00" y2="405.42" stroke="#000" stroke-width="0.9"/>
<line x1="46.00" y1="402.44" x2="48.00" y2="402.44" stroke="#000" stroke-width="0.9"/>
<line x1="46.00" y1="399.45" x2="48.00" y2="399.45" stroke="#000" stroke-width="0.9"/>
<line x1="46.00" y1="396.47" x2="48.00" y2="396.47" stroke="#000" stroke-width="0.9"/>
<line x1="46.00" y1="393.49" x2="48.60" y2="393.49" stroke="#000" stroke-width="0.9"/>
<line x1="46.00" y1="390.50" x2="48.00" y2="390.50" stroke="#000" stroke-width="0.9"/>
<line x1="46.00" y1="387.52" x2="48.00" y2="387.52" stroke="#000" stroke-width="0.9"/>
<line x1="46.00" y1="384.54" x2="48.00" y2="384.54" stroke="#000" stroke-width="0.9"/>
<line x1="46.00" y1="381.56" x2="48.00" y2="381.56" stroke="#000" stroke-width="0.9"/>
<line x1="46.00" y1="378.57" x2="48.60" y2="378.57" stroke="#000" stroke-width="0.9"/>
<line x1="46.00" y1="375.59" x2="48.00" y2="375.59" stroke="#000" stroke-width="0.9"/>
<line x1="46.00" y1="372.61" x2="48.00" y2="372.61" stroke="#000" stroke-width="0.9"/>
<line x1="46.00" y1="369.63" x2="48.00" y2="369.63" stroke="#000" stroke-width="0.9"/>
<line x1="46.00" y1="366.64" x2="48.00" y2="366.64" stroke="#000" stroke-width="0.9"/>
<line x1="46.00" y1="363.66" x2="48.60" y2="363.66" stroke="#000" stroke-width="0.9"/>
<line x1="46.00" y1="360.68" x2="48.00" y2="360.68" stroke="#000" stroke-width="0.9"/>
<line x1="46.00" y1="357.70" x2="48.00" y2="357.70" stroke="#000" stroke-width="0.9"/>
<line x1="46.00" y1="354.71" x2="48.00" y2="354.71" stroke="#000" stroke-width="0.9"/>
<line x1="46.00" y1="351.73" x2="48.00" y2="351.73" stroke="#000" stroke-width="0.9"/>
<line x1="46.00" y1="348.75" x2="48.60" y2="348.75" stroke="#000" stroke-width="0.9"/>
<line x1="46.00" y1="345.77" x2="48.00" y2="345.77" stroke="#000" stroke-width="0.9"/>
<line x1="46.00" y1="342.78" x2="48.00" y2="342.78" stroke="#000" stroke-width="0.9"/>
<line x1="46.00" y1="339.80" x2="48.00" y2="339.80" stroke="#000" stroke-width="0.9"/>
<line x1="46.00" y1="336.82" x2="48.00" y2="336.82" stroke="#000" stroke-width="0.9"/>
<line x1="46.00" y1="333.84" x2="48.60" y2="333.84" stroke="#000" stroke-width="0.9"/>
<line x1="46.00" y1="330.86" x2="48.00" y2="330.86" stroke="#000" stroke-width="0.9"/>
<line x1="46.00" y1="327.87" x2="48.00" y2="327.87" stroke="#000" stroke-width="0.9"/>
<line x1="46.00" y1="324.89" x2="48.00" y2="324.89" stroke="#000" stroke-width="0.9"/>
<line x1="46.00" y1="321.91" x2="48.00" y2="321.91" stroke="#000" stroke-width="0.9"/>
<line x1="46.00" y1="318.93" x2="48.60" y2="318.93" stroke="#000" stroke-width="0.9"/>
<line x1="46.00" y1="315.94" x2="48.00" y2="315.94" stroke="#000" stroke-width="0.9"/>
<line x1="46.00" y1="312.96" x2="48.00" y2="312.96" stroke="#000" stroke-width="0.9"/>
<line x1="46.00" y1="309.98" x2="48.00" y2="309.98" stroke="#000" stroke-width="0.9"/>
<line x1="46.00" y1="307.00" x2="48.00" y2="307.00" stroke="#000" stroke-width="0.9"/>
<line x1="46.00" y1="304.01" x2="48.60" y2="304.01" stroke="#000" stroke-width="0.9"/>
<line x1="46.00" y1="301.03" x2="48.00" y2="301.03" stroke="#000" stroke-width="0.9"/>
<line x1="46.00" y1="298.05" x2="48.00" y2="298.05" stroke="#000" stroke-width="0.9"/>
<line x1="46.00" y1="295.06" x2="48.00" y2="295.06" stroke="#000" stroke-width="0.9"/>
<line x1="46.00" y1="292.08" x2="48.00" y2="292.08" stroke="#000" stroke-width="0.9"/>
<line x1="46.00" y1="289.10" x2="48.60" y2="289.10" stroke="#000" stroke-width="0.9"/>
<line x1="70.86" y1="408.40" x2="70.86" y2="406.00" stroke="#000" stroke-width="0.8"/>
<line x1="95.72" y1="408.40" x2="95.72" y2="406.00" stroke="#000" stroke-width="0.8"/>
<line x1="120.59" y1="408.40" x2="120.59" y2="406.00" stroke="#000" stroke-width="0.8"/>
<line x1="145.45" y1="408.40" x2="145.45" y2="406.00" stroke="#000" stroke-width="0.8"/>
<line x1="170.31" y1="408.40" x2="170.31" y2="406.00" stroke="#000" stroke-width="0.8"/>
<line x1="195.18" y1="408.40" x2="195.18" y2="406.00" stroke="#000" stroke-width="0.8"/>
<line x1="220.04" y1="408.40" x2="220.04" y2="406.00" stroke="#000" stroke-width="0.8"/>
<rect x="46.00" y="289.10" width="198.90" height="119.30" fill="none" stroke="#000" stroke-width="1.45"/>
<text x="39.30" y="291.70" text-anchor="end" class="by">95%</text>
<text x="39.30" y="306.61" text-anchor="end" class="by">90%</text>
<text x="39.30" y="321.53" text-anchor="end" class="by">85%</text>
<text x="39.30" y="336.44" text-anchor="end" class="by">80%</text>
<text x="39.30" y="351.35" text-anchor="end" class="by">75%</text>
<text x="39.30" y="366.26" text-anchor="end" class="by">70%</text>
<text x="39.30" y="381.18" text-anchor="end" class="by">65%</text>
<text x="39.30" y="396.09" text-anchor="end" class="by">60%</text>
<text x="39.30" y="411.00" text-anchor="end" class="by">55%</text>
<text x="145.05" y="433.80" text-anchor="middle" class="bt">Activation Function for CNN</text>
<text transform="translate(14.40,347.90) rotate(-90)" text-anchor="middle" class="bt">Validation Accuracy</text>
<line x1="351.30" y1="303.70" x2="542.30" y2="303.70" stroke="#d8d8d8" stroke-width="0.6" stroke-dasharray="2.6 1.45"/>
<line x1="351.30" y1="318.50" x2="542.30" y2="318.50" stroke="#d8d8d8" stroke-width="0.6" stroke-dasharray="2.6 1.45"/>
<line x1="351.30" y1="333.30" x2="542.30" y2="333.30" stroke="#d8d8d8" stroke-width="0.6" stroke-dasharray="2.6 1.45"/>
<line x1="351.30" y1="348.10" x2="542.30" y2="348.10" stroke="#d8d8d8" stroke-width="0.6" stroke-dasharray="2.6 1.45"/>
<line x1="351.30" y1="362.90" x2="542.30" y2="362.90" stroke="#d8d8d8" stroke-width="0.6" stroke-dasharray="2.6 1.45"/>
<line x1="351.30" y1="377.70" x2="542.30" y2="377.70" stroke="#d8d8d8" stroke-width="0.6" stroke-dasharray="2.6 1.45"/>
<line x1="351.30" y1="392.50" x2="542.30" y2="392.50" stroke="#d8d8d8" stroke-width="0.6" stroke-dasharray="2.6 1.45"/>
<rect x="362.20" y="339.22" width="19.40" height="68.08" fill="#cdcdcd" stroke="#000" stroke-width="1.55"/>
<text x="371.90" y="419.00" text-anchor="middle" class="bx">tanh</text>
<rect x="411.40" y="300.74" width="19.40" height="106.56" fill="#0070c0" stroke="#000" stroke-width="1.55"/>
<text x="421.10" y="419.00" text-anchor="middle" class="bx">sigmoid</text>
<rect x="460.50" y="321.46" width="19.40" height="85.84" fill="#cdcdcd" stroke="#000" stroke-width="1.55"/>
<text x="470.20" y="419.00" text-anchor="middle" class="bx">relu</text>
<rect x="509.80" y="333.30" width="19.40" height="74.00" fill="#cdcdcd" stroke="#000" stroke-width="1.55"/>
<text x="519.50" y="419.00" text-anchor="middle" class="bx">leaky relu</text>
<line x1="347.80" y1="407.30" x2="350.40" y2="407.30" stroke="#000" stroke-width="0.9"/>
<line x1="347.80" y1="404.34" x2="349.80" y2="404.34" stroke="#000" stroke-width="0.9"/>
<line x1="347.80" y1="401.38" x2="349.80" y2="401.38" stroke="#000" stroke-width="0.9"/>
<line x1="347.80" y1="398.42" x2="349.80" y2="398.42" stroke="#000" stroke-width="0.9"/>
<line x1="347.80" y1="395.46" x2="349.80" y2="395.46" stroke="#000" stroke-width="0.9"/>
<line x1="347.80" y1="392.50" x2="350.40" y2="392.50" stroke="#000" stroke-width="0.9"/>
<line x1="347.80" y1="389.54" x2="349.80" y2="389.54" stroke="#000" stroke-width="0.9"/>
<line x1="347.80" y1="386.58" x2="349.80" y2="386.58" stroke="#000" stroke-width="0.9"/>
<line x1="347.80" y1="383.62" x2="349.80" y2="383.62" stroke="#000" stroke-width="0.9"/>
<line x1="347.80" y1="380.66" x2="349.80" y2="380.66" stroke="#000" stroke-width="0.9"/>
<line x1="347.80" y1="377.70" x2="350.40" y2="377.70" stroke="#000" stroke-width="0.9"/>
<line x1="347.80" y1="374.74" x2="349.80" y2="374.74" stroke="#000" stroke-width="0.9"/>
<line x1="347.80" y1="371.78" x2="349.80" y2="371.78" stroke="#000" stroke-width="0.9"/>
<line x1="347.80" y1="368.82" x2="349.80" y2="368.82" stroke="#000" stroke-width="0.9"/>
<line x1="347.80" y1="365.86" x2="349.80" y2="365.86" stroke="#000" stroke-width="0.9"/>
<line x1="347.80" y1="362.90" x2="350.40" y2="362.90" stroke="#000" stroke-width="0.9"/>
<line x1="347.80" y1="359.94" x2="349.80" y2="359.94" stroke="#000" stroke-width="0.9"/>
<line x1="347.80" y1="356.98" x2="349.80" y2="356.98" stroke="#000" stroke-width="0.9"/>
<line x1="347.80" y1="354.02" x2="349.80" y2="354.02" stroke="#000" stroke-width="0.9"/>
<line x1="347.80" y1="351.06" x2="349.80" y2="351.06" stroke="#000" stroke-width="0.9"/>
<line x1="347.80" y1="348.10" x2="350.40" y2="348.10" stroke="#000" stroke-width="0.9"/>
<line x1="347.80" y1="345.14" x2="349.80" y2="345.14" stroke="#000" stroke-width="0.9"/>
<line x1="347.80" y1="342.18" x2="349.80" y2="342.18" stroke="#000" stroke-width="0.9"/>
<line x1="347.80" y1="339.22" x2="349.80" y2="339.22" stroke="#000" stroke-width="0.9"/>
<line x1="347.80" y1="336.26" x2="349.80" y2="336.26" stroke="#000" stroke-width="0.9"/>
<line x1="347.80" y1="333.30" x2="350.40" y2="333.30" stroke="#000" stroke-width="0.9"/>
<line x1="347.80" y1="330.34" x2="349.80" y2="330.34" stroke="#000" stroke-width="0.9"/>
<line x1="347.80" y1="327.38" x2="349.80" y2="327.38" stroke="#000" stroke-width="0.9"/>
<line x1="347.80" y1="324.42" x2="349.80" y2="324.42" stroke="#000" stroke-width="0.9"/>
<line x1="347.80" y1="321.46" x2="349.80" y2="321.46" stroke="#000" stroke-width="0.9"/>
<line x1="347.80" y1="318.50" x2="350.40" y2="318.50" stroke="#000" stroke-width="0.9"/>
<line x1="347.80" y1="315.54" x2="349.80" y2="315.54" stroke="#000" stroke-width="0.9"/>
<line x1="347.80" y1="312.58" x2="349.80" y2="312.58" stroke="#000" stroke-width="0.9"/>
<line x1="347.80" y1="309.62" x2="349.80" y2="309.62" stroke="#000" stroke-width="0.9"/>
<line x1="347.80" y1="306.66" x2="349.80" y2="306.66" stroke="#000" stroke-width="0.9"/>
<line x1="347.80" y1="303.70" x2="350.40" y2="303.70" stroke="#000" stroke-width="0.9"/>
<line x1="347.80" y1="300.74" x2="349.80" y2="300.74" stroke="#000" stroke-width="0.9"/>
<line x1="347.80" y1="297.78" x2="349.80" y2="297.78" stroke="#000" stroke-width="0.9"/>
<line x1="347.80" y1="294.82" x2="349.80" y2="294.82" stroke="#000" stroke-width="0.9"/>
<line x1="347.80" y1="291.86" x2="349.80" y2="291.86" stroke="#000" stroke-width="0.9"/>
<line x1="347.80" y1="288.90" x2="350.40" y2="288.90" stroke="#000" stroke-width="0.9"/>
<line x1="372.43" y1="407.30" x2="372.43" y2="404.90" stroke="#000" stroke-width="0.8"/>
<line x1="397.05" y1="407.30" x2="397.05" y2="404.90" stroke="#000" stroke-width="0.8"/>
<line x1="421.67" y1="407.30" x2="421.67" y2="404.90" stroke="#000" stroke-width="0.8"/>
<line x1="446.30" y1="407.30" x2="446.30" y2="404.90" stroke="#000" stroke-width="0.8"/>
<line x1="470.92" y1="407.30" x2="470.92" y2="404.90" stroke="#000" stroke-width="0.8"/>
<line x1="495.55" y1="407.30" x2="495.55" y2="404.90" stroke="#000" stroke-width="0.8"/>
<line x1="520.17" y1="407.30" x2="520.17" y2="404.90" stroke="#000" stroke-width="0.8"/>
<rect x="347.80" y="288.90" width="197.00" height="118.40" fill="none" stroke="#000" stroke-width="1.45"/>
<text x="341.00" y="291.50" text-anchor="end" class="by">95%</text>
<text x="341.00" y="306.30" text-anchor="end" class="by">90%</text>
<text x="341.00" y="321.10" text-anchor="end" class="by">85%</text>
<text x="341.00" y="335.90" text-anchor="end" class="by">80%</text>
<text x="341.00" y="350.70" text-anchor="end" class="by">75%</text>
<text x="341.00" y="365.50" text-anchor="end" class="by">70%</text>
<text x="341.00" y="380.30" text-anchor="end" class="by">65%</text>
<text x="341.00" y="395.10" text-anchor="end" class="by">60%</text>
<text x="341.00" y="409.90" text-anchor="end" class="by">55%</text>
<text x="445.10" y="434.40" text-anchor="middle" class="bt">Activation Function for LSTM</text>
<text transform="translate(315.70,347.30) rotate(-90)" text-anchor="middle" class="bt">Validation Accuracy</text>
<text x="136.7" y="272.8" text-anchor="middle" class="cap">(<tspan font-weight="bold">a</tspan>)</text>
<text x="417.3" y="272.8" text-anchor="middle" class="cap">(<tspan font-weight="bold">b</tspan>)</text>
<text x="125.7" y="463.2" text-anchor="middle" class="cap">(<tspan font-weight="bold">c</tspan>)</text>
<text x="428.4" y="463.2" text-anchor="middle" class="cap">(<tspan font-weight="bold">d</tspan>)</text>
</svg>
</body></html>
